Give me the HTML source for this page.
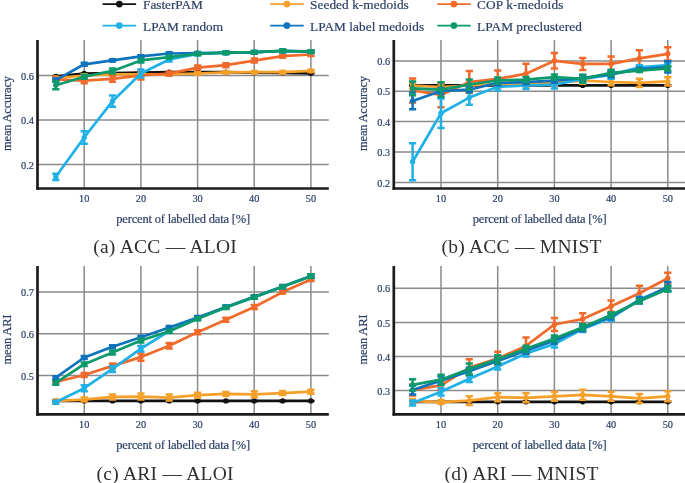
<!DOCTYPE html>
<html lang="en">
<head>
<meta charset="utf-8">
<title>LPAM results</title>
<style>
html,body{margin:0;padding:0;background:#fff;}
svg{display:block;}
text{font-family:"Liberation Serif", "DejaVu Serif", serif;}
.t{fill:#2b3f66;stroke:#2b3f66;stroke-width:.2px;}
.cap{fill:#303030;}
</style>
</head>
<body>
<svg width="685" height="483" viewBox="0 0 685 483">
<rect width="685" height="483" fill="#ffffff"/>
<g id="legend">
<line x1="102.6" y1="4.1" x2="136.1" y2="4.1" stroke="#111111" stroke-width="1.9"/><circle cx="119.3" cy="4.1" r="3.4" fill="#111111"/><text class="t" x="143.1" y="9.2" font-size="13.3" textLength="59.8" lengthAdjust="spacing">FasterPAM</text>
<line x1="102.6" y1="25.6" x2="136.1" y2="25.6" stroke="#1fb1e6" stroke-width="1.9"/><circle cx="119.3" cy="25.6" r="3.4" fill="#1fb1e6"/><text class="t" x="143.1" y="30.7" font-size="13.3" textLength="80.0" lengthAdjust="spacing">LPAM random</text>
<line x1="270.2" y1="4.1" x2="303.7" y2="4.1" stroke="#f5a02a" stroke-width="1.9"/><circle cx="286.9" cy="4.1" r="3.4" fill="#f5a02a"/><text class="t" x="310.0" y="9.2" font-size="13.3" textLength="98.8" lengthAdjust="spacing">Seeded k-medoids</text>
<line x1="270.2" y1="25.6" x2="303.7" y2="25.6" stroke="#0f72bc" stroke-width="1.9"/><circle cx="286.9" cy="25.6" r="3.4" fill="#0f72bc"/><text class="t" x="310.0" y="30.7" font-size="13.3" textLength="114.1" lengthAdjust="spacing">LPAM label medoids</text>
<line x1="437.2" y1="4.1" x2="470.7" y2="4.1" stroke="#f06a2a" stroke-width="1.9"/><circle cx="453.9" cy="4.1" r="3.4" fill="#f06a2a"/><text class="t" x="477.1" y="9.2" font-size="13.3" textLength="86.3" lengthAdjust="spacing">COP k-medoids</text>
<line x1="437.2" y1="25.6" x2="470.7" y2="25.6" stroke="#0c9a6c" stroke-width="1.9"/><circle cx="453.9" cy="25.6" r="3.4" fill="#0c9a6c"/><text class="t" x="477.1" y="30.7" font-size="13.3" textLength="104.7" lengthAdjust="spacing">LPAM preclustered</text>
</g>
<g id="plot0">
<line x1="84.2" y1="40.0" x2="84.2" y2="188.5" stroke="#8a8a8a" stroke-width="1.5"/><line x1="140.9" y1="40.0" x2="140.9" y2="188.5" stroke="#8a8a8a" stroke-width="1.5"/><line x1="197.6" y1="40.0" x2="197.6" y2="188.5" stroke="#8a8a8a" stroke-width="1.5"/><line x1="254.2" y1="40.0" x2="254.2" y2="188.5" stroke="#8a8a8a" stroke-width="1.5"/><line x1="310.9" y1="40.0" x2="310.9" y2="188.5" stroke="#8a8a8a" stroke-width="1.5"/><line x1="37.5" y1="75.5" x2="328.8" y2="75.5" stroke="#8a8a8a" stroke-width="1.5"/><line x1="37.5" y1="120.0" x2="328.8" y2="120.0" stroke="#8a8a8a" stroke-width="1.5"/><line x1="37.5" y1="164.5" x2="328.8" y2="164.5" stroke="#8a8a8a" stroke-width="1.5"/>
<polyline points="55.8,76.4 84.2,73.5 112.5,73.2 140.9,72.5 169.2,72.2 197.6,72.2 225.9,72.2 254.2,72.6 282.6,72.8 310.9,73.3" fill="none" stroke="#111111" stroke-width="2.7" stroke-linejoin="round"/><path d="M55.8 76.4V76.4M52.2 76.4H59.4M52.2 76.4H59.4" stroke="#111111" stroke-width="2.5" fill="none"/><circle cx="55.8" cy="76.4" r="2.7" fill="#111111"/><path d="M84.2 73.5V73.5M80.6 73.5H87.8M80.6 73.5H87.8" stroke="#111111" stroke-width="2.5" fill="none"/><circle cx="84.2" cy="73.5" r="2.7" fill="#111111"/><path d="M112.5 73.2V73.2M108.9 73.2H116.1M108.9 73.2H116.1" stroke="#111111" stroke-width="2.5" fill="none"/><circle cx="112.5" cy="73.2" r="2.7" fill="#111111"/><path d="M140.9 72.5V72.5M137.3 72.5H144.5M137.3 72.5H144.5" stroke="#111111" stroke-width="2.5" fill="none"/><circle cx="140.9" cy="72.5" r="2.7" fill="#111111"/><path d="M169.2 72.2V72.2M165.6 72.2H172.8M165.6 72.2H172.8" stroke="#111111" stroke-width="2.5" fill="none"/><circle cx="169.2" cy="72.2" r="2.7" fill="#111111"/><path d="M197.6 72.2V72.2M194.0 72.2H201.2M194.0 72.2H201.2" stroke="#111111" stroke-width="2.5" fill="none"/><circle cx="197.6" cy="72.2" r="2.7" fill="#111111"/><path d="M225.9 72.2V72.2M222.3 72.2H229.5M222.3 72.2H229.5" stroke="#111111" stroke-width="2.5" fill="none"/><circle cx="225.9" cy="72.2" r="2.7" fill="#111111"/><path d="M254.2 72.6V72.6M250.7 72.6H257.9M250.7 72.6H257.9" stroke="#111111" stroke-width="2.5" fill="none"/><circle cx="254.2" cy="72.6" r="2.7" fill="#111111"/><path d="M282.6 72.8V72.8M279.0 72.8H286.2M279.0 72.8H286.2" stroke="#111111" stroke-width="2.5" fill="none"/><circle cx="282.6" cy="72.8" r="2.7" fill="#111111"/><path d="M310.9 73.3V73.3M307.3 73.3H314.6M307.3 73.3H314.6" stroke="#111111" stroke-width="2.5" fill="none"/><circle cx="310.9" cy="73.3" r="2.7" fill="#111111"/>
<polyline points="55.8,78.0 84.2,75.5 112.5,74.4 140.9,74.4 169.2,74.4 197.6,73.5 225.9,72.4 254.2,72.2 282.6,72.2 310.9,70.9" fill="none" stroke="#f5a02a" stroke-width="2.7" stroke-linejoin="round"/><path d="M55.8 76.8V79.2M52.2 76.8H59.4M52.2 79.2H59.4" stroke="#f5a02a" stroke-width="2.5" fill="none"/><circle cx="55.8" cy="78.0" r="2.7" fill="#f5a02a"/><path d="M84.2 74.3V76.7M80.6 74.3H87.8M80.6 76.7H87.8" stroke="#f5a02a" stroke-width="2.5" fill="none"/><circle cx="84.2" cy="75.5" r="2.7" fill="#f5a02a"/><path d="M112.5 73.2V75.6M108.9 73.2H116.1M108.9 75.6H116.1" stroke="#f5a02a" stroke-width="2.5" fill="none"/><circle cx="112.5" cy="74.4" r="2.7" fill="#f5a02a"/><path d="M140.9 73.2V75.6M137.3 73.2H144.5M137.3 75.6H144.5" stroke="#f5a02a" stroke-width="2.5" fill="none"/><circle cx="140.9" cy="74.4" r="2.7" fill="#f5a02a"/><path d="M169.2 73.2V75.6M165.6 73.2H172.8M165.6 75.6H172.8" stroke="#f5a02a" stroke-width="2.5" fill="none"/><circle cx="169.2" cy="74.4" r="2.7" fill="#f5a02a"/><path d="M197.6 72.3V74.7M194.0 72.3H201.2M194.0 74.7H201.2" stroke="#f5a02a" stroke-width="2.5" fill="none"/><circle cx="197.6" cy="73.5" r="2.7" fill="#f5a02a"/><path d="M225.9 71.2V73.6M222.3 71.2H229.5M222.3 73.6H229.5" stroke="#f5a02a" stroke-width="2.5" fill="none"/><circle cx="225.9" cy="72.4" r="2.7" fill="#f5a02a"/><path d="M254.2 71.0V73.4M250.7 71.0H257.9M250.7 73.4H257.9" stroke="#f5a02a" stroke-width="2.5" fill="none"/><circle cx="254.2" cy="72.2" r="2.7" fill="#f5a02a"/><path d="M282.6 71.0V73.4M279.0 71.0H286.2M279.0 73.4H286.2" stroke="#f5a02a" stroke-width="2.5" fill="none"/><circle cx="282.6" cy="72.2" r="2.7" fill="#f5a02a"/><path d="M310.9 69.7V72.1M307.3 69.7H314.6M307.3 72.1H314.6" stroke="#f5a02a" stroke-width="2.5" fill="none"/><circle cx="310.9" cy="70.9" r="2.7" fill="#f5a02a"/>
<polyline points="55.8,79.4 84.2,80.7 112.5,78.8 140.9,75.5 169.2,73.5 197.6,67.6 225.9,65.2 254.2,60.6 282.6,56.2 310.9,54.5" fill="none" stroke="#f06a2a" stroke-width="2.7" stroke-linejoin="round"/><path d="M55.8 77.4V81.4M52.2 77.4H59.4M52.2 81.4H59.4" stroke="#f06a2a" stroke-width="2.5" fill="none"/><circle cx="55.8" cy="79.4" r="2.7" fill="#f06a2a"/><path d="M84.2 78.2V83.2M80.6 78.2H87.8M80.6 83.2H87.8" stroke="#f06a2a" stroke-width="2.5" fill="none"/><circle cx="84.2" cy="80.7" r="2.7" fill="#f06a2a"/><path d="M112.5 75.8V81.8M108.9 75.8H116.1M108.9 81.8H116.1" stroke="#f06a2a" stroke-width="2.5" fill="none"/><circle cx="112.5" cy="78.8" r="2.7" fill="#f06a2a"/><path d="M140.9 71.5V79.5M137.3 71.5H144.5M137.3 79.5H144.5" stroke="#f06a2a" stroke-width="2.5" fill="none"/><circle cx="140.9" cy="75.5" r="2.7" fill="#f06a2a"/><path d="M169.2 71.5V75.5M165.6 71.5H172.8M165.6 75.5H172.8" stroke="#f06a2a" stroke-width="2.5" fill="none"/><circle cx="169.2" cy="73.5" r="2.7" fill="#f06a2a"/><path d="M197.6 65.6V69.6M194.0 65.6H201.2M194.0 69.6H201.2" stroke="#f06a2a" stroke-width="2.5" fill="none"/><circle cx="197.6" cy="67.6" r="2.7" fill="#f06a2a"/><path d="M225.9 63.2V67.2M222.3 63.2H229.5M222.3 67.2H229.5" stroke="#f06a2a" stroke-width="2.5" fill="none"/><circle cx="225.9" cy="65.2" r="2.7" fill="#f06a2a"/><path d="M254.2 58.6V62.6M250.7 58.6H257.9M250.7 62.6H257.9" stroke="#f06a2a" stroke-width="2.5" fill="none"/><circle cx="254.2" cy="60.6" r="2.7" fill="#f06a2a"/><path d="M282.6 54.7V57.7M279.0 54.7H286.2M279.0 57.7H286.2" stroke="#f06a2a" stroke-width="2.5" fill="none"/><circle cx="282.6" cy="56.2" r="2.7" fill="#f06a2a"/><path d="M310.9 53.0V56.0M307.3 53.0H314.6M307.3 56.0H314.6" stroke="#f06a2a" stroke-width="2.5" fill="none"/><circle cx="310.9" cy="54.5" r="2.7" fill="#f06a2a"/>
<polyline points="55.8,176.8 84.2,137.5 112.5,101.2 140.9,73.5 169.2,59.5 197.6,54.0 225.9,52.9 254.2,52.4 282.6,51.0 310.9,51.8" fill="none" stroke="#1fb1e6" stroke-width="2.7" stroke-linejoin="round"/><path d="M55.8 173.7V179.9M52.2 173.7H59.4M52.2 179.9H59.4" stroke="#1fb1e6" stroke-width="2.5" fill="none"/><circle cx="55.8" cy="176.8" r="2.7" fill="#1fb1e6"/><path d="M84.2 131.3V143.7M80.6 131.3H87.8M80.6 143.7H87.8" stroke="#1fb1e6" stroke-width="2.5" fill="none"/><circle cx="84.2" cy="137.5" r="2.7" fill="#1fb1e6"/><path d="M112.5 95.6V106.8M108.9 95.6H116.1M108.9 106.8H116.1" stroke="#1fb1e6" stroke-width="2.5" fill="none"/><circle cx="112.5" cy="101.2" r="2.7" fill="#1fb1e6"/><path d="M140.9 69.5V77.5M137.3 69.5H144.5M137.3 77.5H144.5" stroke="#1fb1e6" stroke-width="2.5" fill="none"/><circle cx="140.9" cy="73.5" r="2.7" fill="#1fb1e6"/><path d="M169.2 57.5V61.5M165.6 57.5H172.8M165.6 61.5H172.8" stroke="#1fb1e6" stroke-width="2.5" fill="none"/><circle cx="169.2" cy="59.5" r="2.7" fill="#1fb1e6"/><path d="M197.6 52.5V55.5M194.0 52.5H201.2M194.0 55.5H201.2" stroke="#1fb1e6" stroke-width="2.5" fill="none"/><circle cx="197.6" cy="54.0" r="2.7" fill="#1fb1e6"/><path d="M225.9 51.7V54.1M222.3 51.7H229.5M222.3 54.1H229.5" stroke="#1fb1e6" stroke-width="2.5" fill="none"/><circle cx="225.9" cy="52.9" r="2.7" fill="#1fb1e6"/><path d="M254.2 51.2V53.6M250.7 51.2H257.9M250.7 53.6H257.9" stroke="#1fb1e6" stroke-width="2.5" fill="none"/><circle cx="254.2" cy="52.4" r="2.7" fill="#1fb1e6"/><path d="M282.6 49.8V52.2M279.0 49.8H286.2M279.0 52.2H286.2" stroke="#1fb1e6" stroke-width="2.5" fill="none"/><circle cx="282.6" cy="51.0" r="2.7" fill="#1fb1e6"/><path d="M310.9 50.6V53.0M307.3 50.6H314.6M307.3 53.0H314.6" stroke="#1fb1e6" stroke-width="2.5" fill="none"/><circle cx="310.9" cy="51.8" r="2.7" fill="#1fb1e6"/>
<polyline points="55.8,80.1 84.2,64.3 112.5,60.4 140.9,56.4 169.2,53.5 197.6,53.1 225.9,52.7 254.2,52.2 282.6,50.9 310.9,51.6" fill="none" stroke="#0f72bc" stroke-width="2.7" stroke-linejoin="round"/><path d="M55.8 78.6V81.6M52.2 78.6H59.4M52.2 81.6H59.4" stroke="#0f72bc" stroke-width="2.5" fill="none"/><circle cx="55.8" cy="80.1" r="2.7" fill="#0f72bc"/><path d="M84.2 62.8V65.8M80.6 62.8H87.8M80.6 65.8H87.8" stroke="#0f72bc" stroke-width="2.5" fill="none"/><circle cx="84.2" cy="64.3" r="2.7" fill="#0f72bc"/><path d="M112.5 59.2V61.6M108.9 59.2H116.1M108.9 61.6H116.1" stroke="#0f72bc" stroke-width="2.5" fill="none"/><circle cx="112.5" cy="60.4" r="2.7" fill="#0f72bc"/><path d="M140.9 55.2V57.6M137.3 55.2H144.5M137.3 57.6H144.5" stroke="#0f72bc" stroke-width="2.5" fill="none"/><circle cx="140.9" cy="56.4" r="2.7" fill="#0f72bc"/><path d="M169.2 52.3V54.7M165.6 52.3H172.8M165.6 54.7H172.8" stroke="#0f72bc" stroke-width="2.5" fill="none"/><circle cx="169.2" cy="53.5" r="2.7" fill="#0f72bc"/><path d="M197.6 51.9V54.3M194.0 51.9H201.2M194.0 54.3H201.2" stroke="#0f72bc" stroke-width="2.5" fill="none"/><circle cx="197.6" cy="53.1" r="2.7" fill="#0f72bc"/><path d="M225.9 51.5V53.9M222.3 51.5H229.5M222.3 53.9H229.5" stroke="#0f72bc" stroke-width="2.5" fill="none"/><circle cx="225.9" cy="52.7" r="2.7" fill="#0f72bc"/><path d="M254.2 51.0V53.4M250.7 51.0H257.9M250.7 53.4H257.9" stroke="#0f72bc" stroke-width="2.5" fill="none"/><circle cx="254.2" cy="52.2" r="2.7" fill="#0f72bc"/><path d="M282.6 49.7V52.1M279.0 49.7H286.2M279.0 52.1H286.2" stroke="#0f72bc" stroke-width="2.5" fill="none"/><circle cx="282.6" cy="50.9" r="2.7" fill="#0f72bc"/><path d="M310.9 50.4V52.8M307.3 50.4H314.6M307.3 52.8H314.6" stroke="#0f72bc" stroke-width="2.5" fill="none"/><circle cx="310.9" cy="51.6" r="2.7" fill="#0f72bc"/>
<polyline points="55.8,85.3 84.2,76.8 112.5,70.9 140.9,60.4 169.2,57.1 197.6,53.8 225.9,52.7 254.2,52.2 282.6,50.8 310.9,51.6" fill="none" stroke="#0c9a6c" stroke-width="2.7" stroke-linejoin="round"/><path d="M55.8 81.3V89.3M52.2 81.3H59.4M52.2 89.3H59.4" stroke="#0c9a6c" stroke-width="2.5" fill="none"/><circle cx="55.8" cy="85.3" r="2.7" fill="#0c9a6c"/><path d="M84.2 74.8V78.8M80.6 74.8H87.8M80.6 78.8H87.8" stroke="#0c9a6c" stroke-width="2.5" fill="none"/><circle cx="84.2" cy="76.8" r="2.7" fill="#0c9a6c"/><path d="M112.5 68.4V73.4M108.9 68.4H116.1M108.9 73.4H116.1" stroke="#0c9a6c" stroke-width="2.5" fill="none"/><circle cx="112.5" cy="70.9" r="2.7" fill="#0c9a6c"/><path d="M140.9 58.4V62.4M137.3 58.4H144.5M137.3 62.4H144.5" stroke="#0c9a6c" stroke-width="2.5" fill="none"/><circle cx="140.9" cy="60.4" r="2.7" fill="#0c9a6c"/><path d="M169.2 55.6V58.6M165.6 55.6H172.8M165.6 58.6H172.8" stroke="#0c9a6c" stroke-width="2.5" fill="none"/><circle cx="169.2" cy="57.1" r="2.7" fill="#0c9a6c"/><path d="M197.6 52.6V55.0M194.0 52.6H201.2M194.0 55.0H201.2" stroke="#0c9a6c" stroke-width="2.5" fill="none"/><circle cx="197.6" cy="53.8" r="2.7" fill="#0c9a6c"/><path d="M225.9 51.5V53.9M222.3 51.5H229.5M222.3 53.9H229.5" stroke="#0c9a6c" stroke-width="2.5" fill="none"/><circle cx="225.9" cy="52.7" r="2.7" fill="#0c9a6c"/><path d="M254.2 51.0V53.4M250.7 51.0H257.9M250.7 53.4H257.9" stroke="#0c9a6c" stroke-width="2.5" fill="none"/><circle cx="254.2" cy="52.2" r="2.7" fill="#0c9a6c"/><path d="M282.6 49.6V52.0M279.0 49.6H286.2M279.0 52.0H286.2" stroke="#0c9a6c" stroke-width="2.5" fill="none"/><circle cx="282.6" cy="50.8" r="2.7" fill="#0c9a6c"/><path d="M310.9 50.4V52.8M307.3 50.4H314.6M307.3 52.8H314.6" stroke="#0c9a6c" stroke-width="2.5" fill="none"/><circle cx="310.9" cy="51.6" r="2.7" fill="#0c9a6c"/>
<line x1="37.5" y1="40.0" x2="37.5" y2="189.7" stroke="#1c1c1c" stroke-width="2.7"/><line x1="36.3" y1="188.5" x2="328.8" y2="188.5" stroke="#1c1c1c" stroke-width="2.7"/>
<text class="t" x="33.9" y="79.6" font-size="10.3" text-anchor="end">0.6</text><text class="t" x="33.9" y="124.1" font-size="10.3" text-anchor="end">0.4</text><text class="t" x="33.9" y="168.6" font-size="10.3" text-anchor="end">0.2</text><text class="t" x="84.2" y="201.9" font-size="10.3" text-anchor="middle">10</text><text class="t" x="140.9" y="201.9" font-size="10.3" text-anchor="middle">20</text><text class="t" x="197.6" y="201.9" font-size="10.3" text-anchor="middle">30</text><text class="t" x="254.2" y="201.9" font-size="10.3" text-anchor="middle">40</text><text class="t" x="310.9" y="201.9" font-size="10.3" text-anchor="middle">50</text>
<text class="t" x="183.2" y="222.9" font-size="12.5" text-anchor="middle" textLength="134" lengthAdjust="spacing">percent of labelled data [%]</text>
<text class="t" transform="translate(10.6 113.5) rotate(-90)" font-size="12.5" text-anchor="middle" textLength="75" lengthAdjust="spacing">mean Accuracy</text>
</g>
<g id="plot1">
<line x1="441.0" y1="40.0" x2="441.0" y2="188.5" stroke="#8a8a8a" stroke-width="1.5"/><line x1="497.7" y1="40.0" x2="497.7" y2="188.5" stroke="#8a8a8a" stroke-width="1.5"/><line x1="554.4" y1="40.0" x2="554.4" y2="188.5" stroke="#8a8a8a" stroke-width="1.5"/><line x1="611.1" y1="40.0" x2="611.1" y2="188.5" stroke="#8a8a8a" stroke-width="1.5"/><line x1="667.8" y1="40.0" x2="667.8" y2="188.5" stroke="#8a8a8a" stroke-width="1.5"/><line x1="393.8" y1="61.1" x2="685.0" y2="61.1" stroke="#8a8a8a" stroke-width="1.5"/><line x1="393.8" y1="91.3" x2="685.0" y2="91.3" stroke="#8a8a8a" stroke-width="1.5"/><line x1="393.8" y1="121.6" x2="685.0" y2="121.6" stroke="#8a8a8a" stroke-width="1.5"/><line x1="393.8" y1="152.0" x2="685.0" y2="152.0" stroke="#8a8a8a" stroke-width="1.5"/><line x1="393.8" y1="182.5" x2="685.0" y2="182.5" stroke="#8a8a8a" stroke-width="1.5"/>
<polyline points="412.6,85.4 441.0,85.4 469.3,85.4 497.7,85.4 526.0,85.4 554.4,85.4 582.7,85.4 611.1,85.4 639.4,85.4 667.8,85.4" fill="none" stroke="#111111" stroke-width="2.7" stroke-linejoin="round"/><path d="M412.6 85.4V85.4M409.0 85.4H416.2M409.0 85.4H416.2" stroke="#111111" stroke-width="2.5" fill="none"/><circle cx="412.6" cy="85.4" r="2.7" fill="#111111"/><path d="M441.0 85.4V85.4M437.4 85.4H444.6M437.4 85.4H444.6" stroke="#111111" stroke-width="2.5" fill="none"/><circle cx="441.0" cy="85.4" r="2.7" fill="#111111"/><path d="M469.3 85.4V85.4M465.7 85.4H472.9M465.7 85.4H472.9" stroke="#111111" stroke-width="2.5" fill="none"/><circle cx="469.3" cy="85.4" r="2.7" fill="#111111"/><path d="M497.7 85.4V85.4M494.1 85.4H501.3M494.1 85.4H501.3" stroke="#111111" stroke-width="2.5" fill="none"/><circle cx="497.7" cy="85.4" r="2.7" fill="#111111"/><path d="M526.0 85.4V85.4M522.4 85.4H529.6M522.4 85.4H529.6" stroke="#111111" stroke-width="2.5" fill="none"/><circle cx="526.0" cy="85.4" r="2.7" fill="#111111"/><path d="M554.4 85.4V85.4M550.8 85.4H558.0M550.8 85.4H558.0" stroke="#111111" stroke-width="2.5" fill="none"/><circle cx="554.4" cy="85.4" r="2.7" fill="#111111"/><path d="M582.7 85.4V85.4M579.1 85.4H586.3M579.1 85.4H586.3" stroke="#111111" stroke-width="2.5" fill="none"/><circle cx="582.7" cy="85.4" r="2.7" fill="#111111"/><path d="M611.1 85.4V85.4M607.5 85.4H614.7M607.5 85.4H614.7" stroke="#111111" stroke-width="2.5" fill="none"/><circle cx="611.1" cy="85.4" r="2.7" fill="#111111"/><path d="M639.4 85.4V85.4M635.8 85.4H643.0M635.8 85.4H643.0" stroke="#111111" stroke-width="2.5" fill="none"/><circle cx="639.4" cy="85.4" r="2.7" fill="#111111"/><path d="M667.8 85.4V85.4M664.1 85.4H671.4M664.1 85.4H671.4" stroke="#111111" stroke-width="2.5" fill="none"/><circle cx="667.8" cy="85.4" r="2.7" fill="#111111"/>
<polyline points="412.6,85.5 441.0,87.0 469.3,85.5 497.7,84.2 526.0,84.0 554.4,82.7 582.7,80.7 611.1,82.0 639.4,82.8 667.8,81.4" fill="none" stroke="#f5a02a" stroke-width="2.7" stroke-linejoin="round"/><path d="M412.6 82.5V88.5M409.0 82.5H416.2M409.0 88.5H416.2" stroke="#f5a02a" stroke-width="2.5" fill="none"/><circle cx="412.6" cy="85.5" r="2.7" fill="#f5a02a"/><path d="M441.0 84.0V90.0M437.4 84.0H444.6M437.4 90.0H444.6" stroke="#f5a02a" stroke-width="2.5" fill="none"/><circle cx="441.0" cy="87.0" r="2.7" fill="#f5a02a"/><path d="M469.3 82.5V88.5M465.7 82.5H472.9M465.7 88.5H472.9" stroke="#f5a02a" stroke-width="2.5" fill="none"/><circle cx="469.3" cy="85.5" r="2.7" fill="#f5a02a"/><path d="M497.7 81.2V87.2M494.1 81.2H501.3M494.1 87.2H501.3" stroke="#f5a02a" stroke-width="2.5" fill="none"/><circle cx="497.7" cy="84.2" r="2.7" fill="#f5a02a"/><path d="M526.0 81.0V87.0M522.4 81.0H529.6M522.4 87.0H529.6" stroke="#f5a02a" stroke-width="2.5" fill="none"/><circle cx="526.0" cy="84.0" r="2.7" fill="#f5a02a"/><path d="M554.4 79.7V85.7M550.8 79.7H558.0M550.8 85.7H558.0" stroke="#f5a02a" stroke-width="2.5" fill="none"/><circle cx="554.4" cy="82.7" r="2.7" fill="#f5a02a"/><path d="M582.7 77.7V83.7M579.1 77.7H586.3M579.1 83.7H586.3" stroke="#f5a02a" stroke-width="2.5" fill="none"/><circle cx="582.7" cy="80.7" r="2.7" fill="#f5a02a"/><path d="M611.1 78.7V85.3M607.5 78.7H614.7M607.5 85.3H614.7" stroke="#f5a02a" stroke-width="2.5" fill="none"/><circle cx="611.1" cy="82.0" r="2.7" fill="#f5a02a"/><path d="M639.4 78.7V86.9M635.8 78.7H643.0M635.8 86.9H643.0" stroke="#f5a02a" stroke-width="2.5" fill="none"/><circle cx="639.4" cy="82.8" r="2.7" fill="#f5a02a"/><path d="M667.8 77.3V85.5M664.1 77.3H671.4M664.1 85.5H671.4" stroke="#f5a02a" stroke-width="2.5" fill="none"/><circle cx="667.8" cy="81.4" r="2.7" fill="#f5a02a"/>
<polyline points="412.6,90.5 441.0,95.0 469.3,82.0 497.7,78.9 526.0,73.7 554.4,60.8 582.7,63.9 611.1,63.9 639.4,58.4 667.8,53.8" fill="none" stroke="#f06a2a" stroke-width="2.7" stroke-linejoin="round"/><path d="M412.6 78.5V102.5M409.0 78.5H416.2M409.0 102.5H416.2" stroke="#f06a2a" stroke-width="2.5" fill="none"/><circle cx="412.6" cy="90.5" r="2.7" fill="#f06a2a"/><path d="M441.0 82.8V107.2M437.4 82.8H444.6M437.4 107.2H444.6" stroke="#f06a2a" stroke-width="2.5" fill="none"/><circle cx="441.0" cy="95.0" r="2.7" fill="#f06a2a"/><path d="M469.3 71.0V93.0M465.7 71.0H472.9M465.7 93.0H472.9" stroke="#f06a2a" stroke-width="2.5" fill="none"/><circle cx="469.3" cy="82.0" r="2.7" fill="#f06a2a"/><path d="M497.7 70.4V87.4M494.1 70.4H501.3M494.1 87.4H501.3" stroke="#f06a2a" stroke-width="2.5" fill="none"/><circle cx="497.7" cy="78.9" r="2.7" fill="#f06a2a"/><path d="M526.0 63.8V83.6M522.4 63.8H529.6M522.4 83.6H529.6" stroke="#f06a2a" stroke-width="2.5" fill="none"/><circle cx="526.0" cy="73.7" r="2.7" fill="#f06a2a"/><path d="M554.4 53.1V68.5M550.8 53.1H558.0M550.8 68.5H558.0" stroke="#f06a2a" stroke-width="2.5" fill="none"/><circle cx="554.4" cy="60.8" r="2.7" fill="#f06a2a"/><path d="M582.7 57.9V69.9M579.1 57.9H586.3M579.1 69.9H586.3" stroke="#f06a2a" stroke-width="2.5" fill="none"/><circle cx="582.7" cy="63.9" r="2.7" fill="#f06a2a"/><path d="M611.1 56.4V71.4M607.5 56.4H614.7M607.5 71.4H614.7" stroke="#f06a2a" stroke-width="2.5" fill="none"/><circle cx="611.1" cy="63.9" r="2.7" fill="#f06a2a"/><path d="M639.4 50.2V66.6M635.8 50.2H643.0M635.8 66.6H643.0" stroke="#f06a2a" stroke-width="2.5" fill="none"/><circle cx="639.4" cy="58.4" r="2.7" fill="#f06a2a"/><path d="M667.8 47.2V60.4M664.1 47.2H671.4M664.1 60.4H671.4" stroke="#f06a2a" stroke-width="2.5" fill="none"/><circle cx="667.8" cy="53.8" r="2.7" fill="#f06a2a"/>
<polyline points="412.6,161.7 441.0,113.2 469.3,97.6 497.7,86.8 526.0,85.5 554.4,84.7 582.7,79.0 611.1,74.8 639.4,67.4 667.8,65.0" fill="none" stroke="#1fb1e6" stroke-width="2.7" stroke-linejoin="round"/><path d="M412.6 143.2V180.2M409.0 143.2H416.2M409.0 180.2H416.2" stroke="#1fb1e6" stroke-width="2.5" fill="none"/><circle cx="412.6" cy="161.7" r="2.7" fill="#1fb1e6"/><path d="M441.0 98.4V128.0M437.4 98.4H444.6M437.4 128.0H444.6" stroke="#1fb1e6" stroke-width="2.5" fill="none"/><circle cx="441.0" cy="113.2" r="2.7" fill="#1fb1e6"/><path d="M469.3 90.4V104.8M465.7 90.4H472.9M465.7 104.8H472.9" stroke="#1fb1e6" stroke-width="2.5" fill="none"/><circle cx="469.3" cy="97.6" r="2.7" fill="#1fb1e6"/><path d="M497.7 83.2V90.4M494.1 83.2H501.3M494.1 90.4H501.3" stroke="#1fb1e6" stroke-width="2.5" fill="none"/><circle cx="497.7" cy="86.8" r="2.7" fill="#1fb1e6"/><path d="M526.0 82.0V89.0M522.4 82.0H529.6M522.4 89.0H529.6" stroke="#1fb1e6" stroke-width="2.5" fill="none"/><circle cx="526.0" cy="85.5" r="2.7" fill="#1fb1e6"/><path d="M554.4 80.8V88.6M550.8 80.8H558.0M550.8 88.6H558.0" stroke="#1fb1e6" stroke-width="2.5" fill="none"/><circle cx="554.4" cy="84.7" r="2.7" fill="#1fb1e6"/><path d="M582.7 76.0V82.0M579.1 76.0H586.3M579.1 82.0H586.3" stroke="#1fb1e6" stroke-width="2.5" fill="none"/><circle cx="582.7" cy="79.0" r="2.7" fill="#1fb1e6"/><path d="M611.1 70.8V78.8M607.5 70.8H614.7M607.5 78.8H614.7" stroke="#1fb1e6" stroke-width="2.5" fill="none"/><circle cx="611.1" cy="74.8" r="2.7" fill="#1fb1e6"/><path d="M639.4 65.3V69.5M635.8 65.3H643.0M635.8 69.5H643.0" stroke="#1fb1e6" stroke-width="2.5" fill="none"/><circle cx="639.4" cy="67.4" r="2.7" fill="#1fb1e6"/><path d="M667.8 63.0V67.0M664.1 63.0H671.4M664.1 67.0H671.4" stroke="#1fb1e6" stroke-width="2.5" fill="none"/><circle cx="667.8" cy="65.0" r="2.7" fill="#1fb1e6"/>
<polyline points="412.6,100.9 441.0,91.0 469.3,89.7 497.7,82.8 526.0,82.2 554.4,80.7 582.7,78.1 611.1,74.2 639.4,69.3 667.8,66.9" fill="none" stroke="#0f72bc" stroke-width="2.7" stroke-linejoin="round"/><path d="M412.6 92.6V109.2M409.0 92.6H416.2M409.0 109.2H416.2" stroke="#0f72bc" stroke-width="2.5" fill="none"/><circle cx="412.6" cy="100.9" r="2.7" fill="#0f72bc"/><path d="M441.0 88.0V94.0M437.4 88.0H444.6M437.4 94.0H444.6" stroke="#0f72bc" stroke-width="2.5" fill="none"/><circle cx="441.0" cy="91.0" r="2.7" fill="#0f72bc"/><path d="M469.3 87.1V92.3M465.7 87.1H472.9M465.7 92.3H472.9" stroke="#0f72bc" stroke-width="2.5" fill="none"/><circle cx="469.3" cy="89.7" r="2.7" fill="#0f72bc"/><path d="M497.7 80.3V85.3M494.1 80.3H501.3M494.1 85.3H501.3" stroke="#0f72bc" stroke-width="2.5" fill="none"/><circle cx="497.7" cy="82.8" r="2.7" fill="#0f72bc"/><path d="M526.0 80.2V84.2M522.4 80.2H529.6M522.4 84.2H529.6" stroke="#0f72bc" stroke-width="2.5" fill="none"/><circle cx="526.0" cy="82.2" r="2.7" fill="#0f72bc"/><path d="M554.4 78.7V82.7M550.8 78.7H558.0M550.8 82.7H558.0" stroke="#0f72bc" stroke-width="2.5" fill="none"/><circle cx="554.4" cy="80.7" r="2.7" fill="#0f72bc"/><path d="M582.7 75.1V81.1M579.1 75.1H586.3M579.1 81.1H586.3" stroke="#0f72bc" stroke-width="2.5" fill="none"/><circle cx="582.7" cy="78.1" r="2.7" fill="#0f72bc"/><path d="M611.1 71.2V77.2M607.5 71.2H614.7M607.5 77.2H614.7" stroke="#0f72bc" stroke-width="2.5" fill="none"/><circle cx="611.1" cy="74.2" r="2.7" fill="#0f72bc"/><path d="M639.4 67.8V70.8M635.8 67.8H643.0M635.8 70.8H643.0" stroke="#0f72bc" stroke-width="2.5" fill="none"/><circle cx="639.4" cy="69.3" r="2.7" fill="#0f72bc"/><path d="M667.8 61.2V72.6M664.1 61.2H671.4M664.1 72.6H671.4" stroke="#0f72bc" stroke-width="2.5" fill="none"/><circle cx="667.8" cy="66.9" r="2.7" fill="#0f72bc"/>
<polyline points="412.6,88.4 441.0,89.7 469.3,84.5 497.7,80.5 526.0,79.6 554.4,77.1 582.7,78.8 611.1,72.8 639.4,70.6 667.8,68.4" fill="none" stroke="#0c9a6c" stroke-width="2.7" stroke-linejoin="round"/><path d="M412.6 81.5V95.3M409.0 81.5H416.2M409.0 95.3H416.2" stroke="#0c9a6c" stroke-width="2.5" fill="none"/><circle cx="412.6" cy="88.4" r="2.7" fill="#0c9a6c"/><path d="M441.0 82.3V97.1M437.4 82.3H444.6M437.4 97.1H444.6" stroke="#0c9a6c" stroke-width="2.5" fill="none"/><circle cx="441.0" cy="89.7" r="2.7" fill="#0c9a6c"/><path d="M469.3 79.5V89.5M465.7 79.5H472.9M465.7 89.5H472.9" stroke="#0c9a6c" stroke-width="2.5" fill="none"/><circle cx="469.3" cy="84.5" r="2.7" fill="#0c9a6c"/><path d="M497.7 77.5V83.5M494.1 77.5H501.3M494.1 83.5H501.3" stroke="#0c9a6c" stroke-width="2.5" fill="none"/><circle cx="497.7" cy="80.5" r="2.7" fill="#0c9a6c"/><path d="M526.0 77.1V82.1M522.4 77.1H529.6M522.4 82.1H529.6" stroke="#0c9a6c" stroke-width="2.5" fill="none"/><circle cx="526.0" cy="79.6" r="2.7" fill="#0c9a6c"/><path d="M554.4 74.6V79.6M550.8 74.6H558.0M550.8 79.6H558.0" stroke="#0c9a6c" stroke-width="2.5" fill="none"/><circle cx="554.4" cy="77.1" r="2.7" fill="#0c9a6c"/><path d="M582.7 74.8V82.8M579.1 74.8H586.3M579.1 82.8H586.3" stroke="#0c9a6c" stroke-width="2.5" fill="none"/><circle cx="582.7" cy="78.8" r="2.7" fill="#0c9a6c"/><path d="M611.1 69.8V75.8M607.5 69.8H614.7M607.5 75.8H614.7" stroke="#0c9a6c" stroke-width="2.5" fill="none"/><circle cx="611.1" cy="72.8" r="2.7" fill="#0c9a6c"/><path d="M639.4 69.1V72.1M635.8 69.1H643.0M635.8 72.1H643.0" stroke="#0c9a6c" stroke-width="2.5" fill="none"/><circle cx="639.4" cy="70.6" r="2.7" fill="#0c9a6c"/><path d="M667.8 66.3V70.5M664.1 66.3H671.4M664.1 70.5H671.4" stroke="#0c9a6c" stroke-width="2.5" fill="none"/><circle cx="667.8" cy="68.4" r="2.7" fill="#0c9a6c"/>
<line x1="393.8" y1="40.0" x2="393.8" y2="189.7" stroke="#1c1c1c" stroke-width="2.7"/><line x1="392.6" y1="188.5" x2="685.0" y2="188.5" stroke="#1c1c1c" stroke-width="2.7"/>
<text class="t" x="390.2" y="65.2" font-size="10.3" text-anchor="end">0.6</text><text class="t" x="390.2" y="95.4" font-size="10.3" text-anchor="end">0.5</text><text class="t" x="390.2" y="125.7" font-size="10.3" text-anchor="end">0.4</text><text class="t" x="390.2" y="156.1" font-size="10.3" text-anchor="end">0.3</text><text class="t" x="390.2" y="186.6" font-size="10.3" text-anchor="end">0.2</text><text class="t" x="441.0" y="201.9" font-size="10.3" text-anchor="middle">10</text><text class="t" x="497.7" y="201.9" font-size="10.3" text-anchor="middle">20</text><text class="t" x="554.4" y="201.9" font-size="10.3" text-anchor="middle">30</text><text class="t" x="611.1" y="201.9" font-size="10.3" text-anchor="middle">40</text><text class="t" x="667.8" y="201.9" font-size="10.3" text-anchor="middle">50</text>
<text class="t" x="539.7" y="222.9" font-size="12.5" text-anchor="middle" textLength="134" lengthAdjust="spacing">percent of labelled data [%]</text>
<text class="t" transform="translate(366.6 113.5) rotate(-90)" font-size="12.5" text-anchor="middle" textLength="75" lengthAdjust="spacing">mean Accuracy</text>
</g>
<g id="plot2">
<line x1="84.2" y1="266.0" x2="84.2" y2="414.4" stroke="#8a8a8a" stroke-width="1.5"/><line x1="140.9" y1="266.0" x2="140.9" y2="414.4" stroke="#8a8a8a" stroke-width="1.5"/><line x1="197.6" y1="266.0" x2="197.6" y2="414.4" stroke="#8a8a8a" stroke-width="1.5"/><line x1="254.2" y1="266.0" x2="254.2" y2="414.4" stroke="#8a8a8a" stroke-width="1.5"/><line x1="310.9" y1="266.0" x2="310.9" y2="414.4" stroke="#8a8a8a" stroke-width="1.5"/><line x1="37.5" y1="292.1" x2="328.8" y2="292.1" stroke="#8a8a8a" stroke-width="1.5"/><line x1="37.5" y1="333.7" x2="328.8" y2="333.7" stroke="#8a8a8a" stroke-width="1.5"/><line x1="37.5" y1="375.4" x2="328.8" y2="375.4" stroke="#8a8a8a" stroke-width="1.5"/>
<polyline points="55.8,400.9 84.2,400.9 112.5,400.9 140.9,400.9 169.2,400.9 197.6,400.9 225.9,400.9 254.2,400.9 282.6,400.9 310.9,400.9" fill="none" stroke="#111111" stroke-width="2.7" stroke-linejoin="round"/><path d="M55.8 400.9V400.9M52.2 400.9H59.4M52.2 400.9H59.4" stroke="#111111" stroke-width="2.5" fill="none"/><circle cx="55.8" cy="400.9" r="2.7" fill="#111111"/><path d="M84.2 400.9V400.9M80.6 400.9H87.8M80.6 400.9H87.8" stroke="#111111" stroke-width="2.5" fill="none"/><circle cx="84.2" cy="400.9" r="2.7" fill="#111111"/><path d="M112.5 400.9V400.9M108.9 400.9H116.1M108.9 400.9H116.1" stroke="#111111" stroke-width="2.5" fill="none"/><circle cx="112.5" cy="400.9" r="2.7" fill="#111111"/><path d="M140.9 400.9V400.9M137.3 400.9H144.5M137.3 400.9H144.5" stroke="#111111" stroke-width="2.5" fill="none"/><circle cx="140.9" cy="400.9" r="2.7" fill="#111111"/><path d="M169.2 400.9V400.9M165.6 400.9H172.8M165.6 400.9H172.8" stroke="#111111" stroke-width="2.5" fill="none"/><circle cx="169.2" cy="400.9" r="2.7" fill="#111111"/><path d="M197.6 400.9V400.9M194.0 400.9H201.2M194.0 400.9H201.2" stroke="#111111" stroke-width="2.5" fill="none"/><circle cx="197.6" cy="400.9" r="2.7" fill="#111111"/><path d="M225.9 400.9V400.9M222.3 400.9H229.5M222.3 400.9H229.5" stroke="#111111" stroke-width="2.5" fill="none"/><circle cx="225.9" cy="400.9" r="2.7" fill="#111111"/><path d="M254.2 400.9V400.9M250.7 400.9H257.9M250.7 400.9H257.9" stroke="#111111" stroke-width="2.5" fill="none"/><circle cx="254.2" cy="400.9" r="2.7" fill="#111111"/><path d="M282.6 400.9V400.9M279.0 400.9H286.2M279.0 400.9H286.2" stroke="#111111" stroke-width="2.5" fill="none"/><circle cx="282.6" cy="400.9" r="2.7" fill="#111111"/><path d="M310.9 400.9V400.9M307.3 400.9H314.6M307.3 400.9H314.6" stroke="#111111" stroke-width="2.5" fill="none"/><circle cx="310.9" cy="400.9" r="2.7" fill="#111111"/>
<polyline points="55.8,401.0 84.2,399.6 112.5,396.9 140.9,396.6 169.2,397.6 197.6,395.2 225.9,393.9 254.2,394.3 282.6,393.1 310.9,391.7" fill="none" stroke="#f5a02a" stroke-width="2.7" stroke-linejoin="round"/><path d="M55.8 399.5V402.5M52.2 399.5H59.4M52.2 402.5H59.4" stroke="#f5a02a" stroke-width="2.5" fill="none"/><circle cx="55.8" cy="401.0" r="2.7" fill="#f5a02a"/><path d="M84.2 397.6V401.6M80.6 397.6H87.8M80.6 401.6H87.8" stroke="#f5a02a" stroke-width="2.5" fill="none"/><circle cx="84.2" cy="399.6" r="2.7" fill="#f5a02a"/><path d="M112.5 394.4V399.4M108.9 394.4H116.1M108.9 399.4H116.1" stroke="#f5a02a" stroke-width="2.5" fill="none"/><circle cx="112.5" cy="396.9" r="2.7" fill="#f5a02a"/><path d="M140.9 393.6V399.6M137.3 393.6H144.5M137.3 399.6H144.5" stroke="#f5a02a" stroke-width="2.5" fill="none"/><circle cx="140.9" cy="396.6" r="2.7" fill="#f5a02a"/><path d="M169.2 394.6V400.6M165.6 394.6H172.8M165.6 400.6H172.8" stroke="#f5a02a" stroke-width="2.5" fill="none"/><circle cx="169.2" cy="397.6" r="2.7" fill="#f5a02a"/><path d="M197.6 392.7V397.7M194.0 392.7H201.2M194.0 397.7H201.2" stroke="#f5a02a" stroke-width="2.5" fill="none"/><circle cx="197.6" cy="395.2" r="2.7" fill="#f5a02a"/><path d="M225.9 391.9V395.9M222.3 391.9H229.5M222.3 395.9H229.5" stroke="#f5a02a" stroke-width="2.5" fill="none"/><circle cx="225.9" cy="393.9" r="2.7" fill="#f5a02a"/><path d="M254.2 391.3V397.3M250.7 391.3H257.9M250.7 397.3H257.9" stroke="#f5a02a" stroke-width="2.5" fill="none"/><circle cx="254.2" cy="394.3" r="2.7" fill="#f5a02a"/><path d="M282.6 391.1V395.1M279.0 391.1H286.2M279.0 395.1H286.2" stroke="#f5a02a" stroke-width="2.5" fill="none"/><circle cx="282.6" cy="393.1" r="2.7" fill="#f5a02a"/><path d="M310.9 389.7V393.7M307.3 389.7H314.6M307.3 393.7H314.6" stroke="#f5a02a" stroke-width="2.5" fill="none"/><circle cx="310.9" cy="391.7" r="2.7" fill="#f5a02a"/>
<polyline points="55.8,382.0 84.2,375.0 112.5,365.9 140.9,357.1 169.2,345.8 197.6,332.2 225.9,319.8 254.2,307.0 282.6,292.1 310.9,279.6" fill="none" stroke="#f06a2a" stroke-width="2.7" stroke-linejoin="round"/><path d="M55.8 380.5V383.5M52.2 380.5H59.4M52.2 383.5H59.4" stroke="#f06a2a" stroke-width="2.5" fill="none"/><circle cx="55.8" cy="382.0" r="2.7" fill="#f06a2a"/><path d="M84.2 373.0V377.0M80.6 373.0H87.8M80.6 377.0H87.8" stroke="#f06a2a" stroke-width="2.5" fill="none"/><circle cx="84.2" cy="375.0" r="2.7" fill="#f06a2a"/><path d="M112.5 363.4V368.4M108.9 363.4H116.1M108.9 368.4H116.1" stroke="#f06a2a" stroke-width="2.5" fill="none"/><circle cx="112.5" cy="365.9" r="2.7" fill="#f06a2a"/><path d="M140.9 353.4V360.8M137.3 353.4H144.5M137.3 360.8H144.5" stroke="#f06a2a" stroke-width="2.5" fill="none"/><circle cx="140.9" cy="357.1" r="2.7" fill="#f06a2a"/><path d="M169.2 343.0V348.6M165.6 343.0H172.8M165.6 348.6H172.8" stroke="#f06a2a" stroke-width="2.5" fill="none"/><circle cx="169.2" cy="345.8" r="2.7" fill="#f06a2a"/><path d="M197.6 330.2V334.2M194.0 330.2H201.2M194.0 334.2H201.2" stroke="#f06a2a" stroke-width="2.5" fill="none"/><circle cx="197.6" cy="332.2" r="2.7" fill="#f06a2a"/><path d="M225.9 317.8V321.8M222.3 317.8H229.5M222.3 321.8H229.5" stroke="#f06a2a" stroke-width="2.5" fill="none"/><circle cx="225.9" cy="319.8" r="2.7" fill="#f06a2a"/><path d="M254.2 305.0V309.0M250.7 305.0H257.9M250.7 309.0H257.9" stroke="#f06a2a" stroke-width="2.5" fill="none"/><circle cx="254.2" cy="307.0" r="2.7" fill="#f06a2a"/><path d="M282.6 290.6V293.6M279.0 290.6H286.2M279.0 293.6H286.2" stroke="#f06a2a" stroke-width="2.5" fill="none"/><circle cx="282.6" cy="292.1" r="2.7" fill="#f06a2a"/><path d="M310.9 278.1V281.1M307.3 278.1H314.6M307.3 281.1H314.6" stroke="#f06a2a" stroke-width="2.5" fill="none"/><circle cx="310.9" cy="279.6" r="2.7" fill="#f06a2a"/>
<polyline points="55.8,402.2 84.2,388.2 112.5,368.9 140.9,348.7 169.2,331.0 197.6,318.5 225.9,307.3 254.2,297.2 282.6,286.7 310.9,276.2" fill="none" stroke="#1fb1e6" stroke-width="2.7" stroke-linejoin="round"/><path d="M55.8 400.7V403.7M52.2 400.7H59.4M52.2 403.7H59.4" stroke="#1fb1e6" stroke-width="2.5" fill="none"/><circle cx="55.8" cy="402.2" r="2.7" fill="#1fb1e6"/><path d="M84.2 385.2V391.2M80.6 385.2H87.8M80.6 391.2H87.8" stroke="#1fb1e6" stroke-width="2.5" fill="none"/><circle cx="84.2" cy="388.2" r="2.7" fill="#1fb1e6"/><path d="M112.5 365.9V371.9M108.9 365.9H116.1M108.9 371.9H116.1" stroke="#1fb1e6" stroke-width="2.5" fill="none"/><circle cx="112.5" cy="368.9" r="2.7" fill="#1fb1e6"/><path d="M140.9 345.9V351.5M137.3 345.9H144.5M137.3 351.5H144.5" stroke="#1fb1e6" stroke-width="2.5" fill="none"/><circle cx="140.9" cy="348.7" r="2.7" fill="#1fb1e6"/><path d="M169.2 329.0V333.0M165.6 329.0H172.8M165.6 333.0H172.8" stroke="#1fb1e6" stroke-width="2.5" fill="none"/><circle cx="169.2" cy="331.0" r="2.7" fill="#1fb1e6"/><path d="M197.6 317.0V320.0M194.0 317.0H201.2M194.0 320.0H201.2" stroke="#1fb1e6" stroke-width="2.5" fill="none"/><circle cx="197.6" cy="318.5" r="2.7" fill="#1fb1e6"/><path d="M225.9 305.8V308.8M222.3 305.8H229.5M222.3 308.8H229.5" stroke="#1fb1e6" stroke-width="2.5" fill="none"/><circle cx="225.9" cy="307.3" r="2.7" fill="#1fb1e6"/><path d="M254.2 295.7V298.7M250.7 295.7H257.9M250.7 298.7H257.9" stroke="#1fb1e6" stroke-width="2.5" fill="none"/><circle cx="254.2" cy="297.2" r="2.7" fill="#1fb1e6"/><path d="M282.6 285.2V288.2M279.0 285.2H286.2M279.0 288.2H286.2" stroke="#1fb1e6" stroke-width="2.5" fill="none"/><circle cx="282.6" cy="286.7" r="2.7" fill="#1fb1e6"/><path d="M310.9 274.7V277.7M307.3 274.7H314.6M307.3 277.7H314.6" stroke="#1fb1e6" stroke-width="2.5" fill="none"/><circle cx="310.9" cy="276.2" r="2.7" fill="#1fb1e6"/>
<polyline points="55.8,377.7 84.2,357.5 112.5,346.7 140.9,337.3 169.2,327.5 197.6,317.5 225.9,307.0 254.2,296.8 282.6,286.5 310.9,276.0" fill="none" stroke="#0f72bc" stroke-width="2.7" stroke-linejoin="round"/><path d="M55.8 376.2V379.2M52.2 376.2H59.4M52.2 379.2H59.4" stroke="#0f72bc" stroke-width="2.5" fill="none"/><circle cx="55.8" cy="377.7" r="2.7" fill="#0f72bc"/><path d="M84.2 356.0V359.0M80.6 356.0H87.8M80.6 359.0H87.8" stroke="#0f72bc" stroke-width="2.5" fill="none"/><circle cx="84.2" cy="357.5" r="2.7" fill="#0f72bc"/><path d="M112.5 345.2V348.2M108.9 345.2H116.1M108.9 348.2H116.1" stroke="#0f72bc" stroke-width="2.5" fill="none"/><circle cx="112.5" cy="346.7" r="2.7" fill="#0f72bc"/><path d="M140.9 335.8V338.8M137.3 335.8H144.5M137.3 338.8H144.5" stroke="#0f72bc" stroke-width="2.5" fill="none"/><circle cx="140.9" cy="337.3" r="2.7" fill="#0f72bc"/><path d="M169.2 326.0V329.0M165.6 326.0H172.8M165.6 329.0H172.8" stroke="#0f72bc" stroke-width="2.5" fill="none"/><circle cx="169.2" cy="327.5" r="2.7" fill="#0f72bc"/><path d="M197.6 316.0V319.0M194.0 316.0H201.2M194.0 319.0H201.2" stroke="#0f72bc" stroke-width="2.5" fill="none"/><circle cx="197.6" cy="317.5" r="2.7" fill="#0f72bc"/><path d="M225.9 305.5V308.5M222.3 305.5H229.5M222.3 308.5H229.5" stroke="#0f72bc" stroke-width="2.5" fill="none"/><circle cx="225.9" cy="307.0" r="2.7" fill="#0f72bc"/><path d="M254.2 295.3V298.3M250.7 295.3H257.9M250.7 298.3H257.9" stroke="#0f72bc" stroke-width="2.5" fill="none"/><circle cx="254.2" cy="296.8" r="2.7" fill="#0f72bc"/><path d="M282.6 285.0V288.0M279.0 285.0H286.2M279.0 288.0H286.2" stroke="#0f72bc" stroke-width="2.5" fill="none"/><circle cx="282.6" cy="286.5" r="2.7" fill="#0f72bc"/><path d="M310.9 274.5V277.5M307.3 274.5H314.6M307.3 277.5H314.6" stroke="#0f72bc" stroke-width="2.5" fill="none"/><circle cx="310.9" cy="276.0" r="2.7" fill="#0f72bc"/>
<polyline points="55.8,382.9 84.2,364.2 112.5,352.6 140.9,340.5 169.2,331.2 197.6,318.7 225.9,307.5 254.2,297.3 282.6,286.8 310.9,276.3" fill="none" stroke="#0c9a6c" stroke-width="2.7" stroke-linejoin="round"/><path d="M55.8 381.1V384.7M52.2 381.1H59.4M52.2 384.7H59.4" stroke="#0c9a6c" stroke-width="2.5" fill="none"/><circle cx="55.8" cy="382.9" r="2.7" fill="#0c9a6c"/><path d="M84.2 362.4V366.0M80.6 362.4H87.8M80.6 366.0H87.8" stroke="#0c9a6c" stroke-width="2.5" fill="none"/><circle cx="84.2" cy="364.2" r="2.7" fill="#0c9a6c"/><path d="M112.5 350.6V354.6M108.9 350.6H116.1M108.9 354.6H116.1" stroke="#0c9a6c" stroke-width="2.5" fill="none"/><circle cx="112.5" cy="352.6" r="2.7" fill="#0c9a6c"/><path d="M140.9 338.5V342.5M137.3 338.5H144.5M137.3 342.5H144.5" stroke="#0c9a6c" stroke-width="2.5" fill="none"/><circle cx="140.9" cy="340.5" r="2.7" fill="#0c9a6c"/><path d="M169.2 329.7V332.7M165.6 329.7H172.8M165.6 332.7H172.8" stroke="#0c9a6c" stroke-width="2.5" fill="none"/><circle cx="169.2" cy="331.2" r="2.7" fill="#0c9a6c"/><path d="M197.6 317.2V320.2M194.0 317.2H201.2M194.0 320.2H201.2" stroke="#0c9a6c" stroke-width="2.5" fill="none"/><circle cx="197.6" cy="318.7" r="2.7" fill="#0c9a6c"/><path d="M225.9 306.0V309.0M222.3 306.0H229.5M222.3 309.0H229.5" stroke="#0c9a6c" stroke-width="2.5" fill="none"/><circle cx="225.9" cy="307.5" r="2.7" fill="#0c9a6c"/><path d="M254.2 295.8V298.8M250.7 295.8H257.9M250.7 298.8H257.9" stroke="#0c9a6c" stroke-width="2.5" fill="none"/><circle cx="254.2" cy="297.3" r="2.7" fill="#0c9a6c"/><path d="M282.6 285.3V288.3M279.0 285.3H286.2M279.0 288.3H286.2" stroke="#0c9a6c" stroke-width="2.5" fill="none"/><circle cx="282.6" cy="286.8" r="2.7" fill="#0c9a6c"/><path d="M310.9 274.5V278.1M307.3 274.5H314.6M307.3 278.1H314.6" stroke="#0c9a6c" stroke-width="2.5" fill="none"/><circle cx="310.9" cy="276.3" r="2.7" fill="#0c9a6c"/>
<line x1="37.5" y1="266.0" x2="37.5" y2="415.6" stroke="#1c1c1c" stroke-width="2.7"/><line x1="36.3" y1="414.4" x2="328.8" y2="414.4" stroke="#1c1c1c" stroke-width="2.7"/>
<text class="t" x="33.9" y="296.2" font-size="10.3" text-anchor="end">0.7</text><text class="t" x="33.9" y="337.8" font-size="10.3" text-anchor="end">0.6</text><text class="t" x="33.9" y="379.5" font-size="10.3" text-anchor="end">0.5</text><text class="t" x="84.2" y="427.8" font-size="10.3" text-anchor="middle">10</text><text class="t" x="140.9" y="427.8" font-size="10.3" text-anchor="middle">20</text><text class="t" x="197.6" y="427.8" font-size="10.3" text-anchor="middle">30</text><text class="t" x="254.2" y="427.8" font-size="10.3" text-anchor="middle">40</text><text class="t" x="310.9" y="427.8" font-size="10.3" text-anchor="middle">50</text>
<text class="t" x="183.2" y="448.8" font-size="12.5" text-anchor="middle" textLength="134" lengthAdjust="spacing">percent of labelled data [%]</text>
<text class="t" transform="translate(10.6 339.5) rotate(-90)" font-size="12.5" text-anchor="middle" textLength="50" lengthAdjust="spacing">mean ARI</text>
</g>
<g id="plot3">
<line x1="441.0" y1="266.0" x2="441.0" y2="414.4" stroke="#8a8a8a" stroke-width="1.5"/><line x1="497.7" y1="266.0" x2="497.7" y2="414.4" stroke="#8a8a8a" stroke-width="1.5"/><line x1="554.4" y1="266.0" x2="554.4" y2="414.4" stroke="#8a8a8a" stroke-width="1.5"/><line x1="611.1" y1="266.0" x2="611.1" y2="414.4" stroke="#8a8a8a" stroke-width="1.5"/><line x1="667.8" y1="266.0" x2="667.8" y2="414.4" stroke="#8a8a8a" stroke-width="1.5"/><line x1="393.8" y1="288.3" x2="685.0" y2="288.3" stroke="#8a8a8a" stroke-width="1.5"/><line x1="393.8" y1="322.4" x2="685.0" y2="322.4" stroke="#8a8a8a" stroke-width="1.5"/><line x1="393.8" y1="356.4" x2="685.0" y2="356.4" stroke="#8a8a8a" stroke-width="1.5"/><line x1="393.8" y1="390.5" x2="685.0" y2="390.5" stroke="#8a8a8a" stroke-width="1.5"/>
<polyline points="412.6,401.8 441.0,401.8 469.3,401.8 497.7,401.8 526.0,401.8 554.4,401.8 582.7,401.8 611.1,401.8 639.4,401.8 667.8,401.8" fill="none" stroke="#111111" stroke-width="2.7" stroke-linejoin="round"/><path d="M412.6 401.8V401.8M409.0 401.8H416.2M409.0 401.8H416.2" stroke="#111111" stroke-width="2.5" fill="none"/><circle cx="412.6" cy="401.8" r="2.7" fill="#111111"/><path d="M441.0 401.8V401.8M437.4 401.8H444.6M437.4 401.8H444.6" stroke="#111111" stroke-width="2.5" fill="none"/><circle cx="441.0" cy="401.8" r="2.7" fill="#111111"/><path d="M469.3 401.8V401.8M465.7 401.8H472.9M465.7 401.8H472.9" stroke="#111111" stroke-width="2.5" fill="none"/><circle cx="469.3" cy="401.8" r="2.7" fill="#111111"/><path d="M497.7 401.8V401.8M494.1 401.8H501.3M494.1 401.8H501.3" stroke="#111111" stroke-width="2.5" fill="none"/><circle cx="497.7" cy="401.8" r="2.7" fill="#111111"/><path d="M526.0 401.8V401.8M522.4 401.8H529.6M522.4 401.8H529.6" stroke="#111111" stroke-width="2.5" fill="none"/><circle cx="526.0" cy="401.8" r="2.7" fill="#111111"/><path d="M554.4 401.8V401.8M550.8 401.8H558.0M550.8 401.8H558.0" stroke="#111111" stroke-width="2.5" fill="none"/><circle cx="554.4" cy="401.8" r="2.7" fill="#111111"/><path d="M582.7 401.8V401.8M579.1 401.8H586.3M579.1 401.8H586.3" stroke="#111111" stroke-width="2.5" fill="none"/><circle cx="582.7" cy="401.8" r="2.7" fill="#111111"/><path d="M611.1 401.8V401.8M607.5 401.8H614.7M607.5 401.8H614.7" stroke="#111111" stroke-width="2.5" fill="none"/><circle cx="611.1" cy="401.8" r="2.7" fill="#111111"/><path d="M639.4 401.8V401.8M635.8 401.8H643.0M635.8 401.8H643.0" stroke="#111111" stroke-width="2.5" fill="none"/><circle cx="639.4" cy="401.8" r="2.7" fill="#111111"/><path d="M667.8 401.8V401.8M664.1 401.8H671.4M664.1 401.8H671.4" stroke="#111111" stroke-width="2.5" fill="none"/><circle cx="667.8" cy="401.8" r="2.7" fill="#111111"/>
<polyline points="412.6,401.1 441.0,402.1 469.3,400.6 497.7,397.2 526.0,397.8 554.4,396.3 582.7,394.8 611.1,396.3 639.4,398.4 667.8,396.3" fill="none" stroke="#f5a02a" stroke-width="2.7" stroke-linejoin="round"/><path d="M412.6 399.1V403.1M409.0 399.1H416.2M409.0 403.1H416.2" stroke="#f5a02a" stroke-width="2.5" fill="none"/><circle cx="412.6" cy="401.1" r="2.7" fill="#f5a02a"/><path d="M441.0 400.1V404.1M437.4 400.1H444.6M437.4 404.1H444.6" stroke="#f5a02a" stroke-width="2.5" fill="none"/><circle cx="441.0" cy="402.1" r="2.7" fill="#f5a02a"/><path d="M469.3 396.2V405.0M465.7 396.2H472.9M465.7 405.0H472.9" stroke="#f5a02a" stroke-width="2.5" fill="none"/><circle cx="469.3" cy="400.6" r="2.7" fill="#f5a02a"/><path d="M497.7 393.2V401.2M494.1 393.2H501.3M494.1 401.2H501.3" stroke="#f5a02a" stroke-width="2.5" fill="none"/><circle cx="497.7" cy="397.2" r="2.7" fill="#f5a02a"/><path d="M526.0 393.3V402.3M522.4 393.3H529.6M522.4 402.3H529.6" stroke="#f5a02a" stroke-width="2.5" fill="none"/><circle cx="526.0" cy="397.8" r="2.7" fill="#f5a02a"/><path d="M554.4 391.8V400.8M550.8 391.8H558.0M550.8 400.8H558.0" stroke="#f5a02a" stroke-width="2.5" fill="none"/><circle cx="554.4" cy="396.3" r="2.7" fill="#f5a02a"/><path d="M582.7 389.8V399.8M579.1 389.8H586.3M579.1 399.8H586.3" stroke="#f5a02a" stroke-width="2.5" fill="none"/><circle cx="582.7" cy="394.8" r="2.7" fill="#f5a02a"/><path d="M611.1 391.8V400.8M607.5 391.8H614.7M607.5 400.8H614.7" stroke="#f5a02a" stroke-width="2.5" fill="none"/><circle cx="611.1" cy="396.3" r="2.7" fill="#f5a02a"/><path d="M639.4 393.9V402.9M635.8 393.9H643.0M635.8 402.9H643.0" stroke="#f5a02a" stroke-width="2.5" fill="none"/><circle cx="639.4" cy="398.4" r="2.7" fill="#f5a02a"/><path d="M667.8 391.3V401.3M664.1 391.3H671.4M664.1 401.3H671.4" stroke="#f5a02a" stroke-width="2.5" fill="none"/><circle cx="667.8" cy="396.3" r="2.7" fill="#f5a02a"/>
<polyline points="412.6,390.0 441.0,385.3 469.3,367.6 497.7,358.5 526.0,345.9 554.4,324.5 582.7,319.0 611.1,306.2 639.4,293.2 667.8,278.3" fill="none" stroke="#f06a2a" stroke-width="2.7" stroke-linejoin="round"/><path d="M412.6 384.5V395.5M409.0 384.5H416.2M409.0 395.5H416.2" stroke="#f06a2a" stroke-width="2.5" fill="none"/><circle cx="412.6" cy="390.0" r="2.7" fill="#f06a2a"/><path d="M441.0 380.3V390.3M437.4 380.3H444.6M437.4 390.3H444.6" stroke="#f06a2a" stroke-width="2.5" fill="none"/><circle cx="441.0" cy="385.3" r="2.7" fill="#f06a2a"/><path d="M469.3 359.2V376.0M465.7 359.2H472.9M465.7 376.0H472.9" stroke="#f06a2a" stroke-width="2.5" fill="none"/><circle cx="469.3" cy="367.6" r="2.7" fill="#f06a2a"/><path d="M497.7 351.7V365.3M494.1 351.7H501.3M494.1 365.3H501.3" stroke="#f06a2a" stroke-width="2.5" fill="none"/><circle cx="497.7" cy="358.5" r="2.7" fill="#f06a2a"/><path d="M526.0 337.5V354.3M522.4 337.5H529.6M522.4 354.3H529.6" stroke="#f06a2a" stroke-width="2.5" fill="none"/><circle cx="526.0" cy="345.9" r="2.7" fill="#f06a2a"/><path d="M554.4 318.0V331.0M550.8 318.0H558.0M550.8 331.0H558.0" stroke="#f06a2a" stroke-width="2.5" fill="none"/><circle cx="554.4" cy="324.5" r="2.7" fill="#f06a2a"/><path d="M582.7 313.2V324.8M579.1 313.2H586.3M579.1 324.8H586.3" stroke="#f06a2a" stroke-width="2.5" fill="none"/><circle cx="582.7" cy="319.0" r="2.7" fill="#f06a2a"/><path d="M611.1 300.6V311.8M607.5 300.6H614.7M607.5 311.8H614.7" stroke="#f06a2a" stroke-width="2.5" fill="none"/><circle cx="611.1" cy="306.2" r="2.7" fill="#f06a2a"/><path d="M639.4 285.7V300.7M635.8 285.7H643.0M635.8 300.7H643.0" stroke="#f06a2a" stroke-width="2.5" fill="none"/><circle cx="639.4" cy="293.2" r="2.7" fill="#f06a2a"/><path d="M667.8 272.7V283.9M664.1 272.7H671.4M664.1 283.9H671.4" stroke="#f06a2a" stroke-width="2.5" fill="none"/><circle cx="667.8" cy="278.3" r="2.7" fill="#f06a2a"/>
<polyline points="412.6,403.0 441.0,391.8 469.3,378.8 497.7,366.5 526.0,353.4 554.4,344.0 582.7,329.1 611.1,318.0 639.4,299.3 667.8,288.2" fill="none" stroke="#1fb1e6" stroke-width="2.7" stroke-linejoin="round"/><path d="M412.6 400.5V405.5M409.0 400.5H416.2M409.0 405.5H416.2" stroke="#1fb1e6" stroke-width="2.5" fill="none"/><circle cx="412.6" cy="403.0" r="2.7" fill="#1fb1e6"/><path d="M441.0 388.1V395.5M437.4 388.1H444.6M437.4 395.5H444.6" stroke="#1fb1e6" stroke-width="2.5" fill="none"/><circle cx="441.0" cy="391.8" r="2.7" fill="#1fb1e6"/><path d="M469.3 375.5V382.1M465.7 375.5H472.9M465.7 382.1H472.9" stroke="#1fb1e6" stroke-width="2.5" fill="none"/><circle cx="469.3" cy="378.8" r="2.7" fill="#1fb1e6"/><path d="M497.7 363.5V369.5M494.1 363.5H501.3M494.1 369.5H501.3" stroke="#1fb1e6" stroke-width="2.5" fill="none"/><circle cx="497.7" cy="366.5" r="2.7" fill="#1fb1e6"/><path d="M526.0 350.4V356.4M522.4 350.4H529.6M522.4 356.4H529.6" stroke="#1fb1e6" stroke-width="2.5" fill="none"/><circle cx="526.0" cy="353.4" r="2.7" fill="#1fb1e6"/><path d="M554.4 340.5V347.5M550.8 340.5H558.0M550.8 347.5H558.0" stroke="#1fb1e6" stroke-width="2.5" fill="none"/><circle cx="554.4" cy="344.0" r="2.7" fill="#1fb1e6"/><path d="M582.7 326.1V332.1M579.1 326.1H586.3M579.1 332.1H586.3" stroke="#1fb1e6" stroke-width="2.5" fill="none"/><circle cx="582.7" cy="329.1" r="2.7" fill="#1fb1e6"/><path d="M611.1 315.0V321.0M607.5 315.0H614.7M607.5 321.0H614.7" stroke="#1fb1e6" stroke-width="2.5" fill="none"/><circle cx="611.1" cy="318.0" r="2.7" fill="#1fb1e6"/><path d="M639.4 296.8V301.8M635.8 296.8H643.0M635.8 301.8H643.0" stroke="#1fb1e6" stroke-width="2.5" fill="none"/><circle cx="639.4" cy="299.3" r="2.7" fill="#1fb1e6"/><path d="M667.8 285.7V290.7M664.1 285.7H671.4M664.1 290.7H671.4" stroke="#1fb1e6" stroke-width="2.5" fill="none"/><circle cx="667.8" cy="288.2" r="2.7" fill="#1fb1e6"/>
<polyline points="412.6,390.0 441.0,380.6 469.3,371.3 497.7,361.1 526.0,350.6 554.4,340.7 582.7,328.2 611.1,316.5 639.4,300.6 667.8,286.7" fill="none" stroke="#0f72bc" stroke-width="2.7" stroke-linejoin="round"/><path d="M412.6 385.5V394.5M409.0 385.5H416.2M409.0 394.5H416.2" stroke="#0f72bc" stroke-width="2.5" fill="none"/><circle cx="412.6" cy="390.0" r="2.7" fill="#0f72bc"/><path d="M441.0 376.6V384.6M437.4 376.6H444.6M437.4 384.6H444.6" stroke="#0f72bc" stroke-width="2.5" fill="none"/><circle cx="441.0" cy="380.6" r="2.7" fill="#0f72bc"/><path d="M469.3 367.8V374.8M465.7 367.8H472.9M465.7 374.8H472.9" stroke="#0f72bc" stroke-width="2.5" fill="none"/><circle cx="469.3" cy="371.3" r="2.7" fill="#0f72bc"/><path d="M497.7 358.1V364.1M494.1 358.1H501.3M494.1 364.1H501.3" stroke="#0f72bc" stroke-width="2.5" fill="none"/><circle cx="497.7" cy="361.1" r="2.7" fill="#0f72bc"/><path d="M526.0 347.6V353.6M522.4 347.6H529.6M522.4 353.6H529.6" stroke="#0f72bc" stroke-width="2.5" fill="none"/><circle cx="526.0" cy="350.6" r="2.7" fill="#0f72bc"/><path d="M554.4 337.7V343.7M550.8 337.7H558.0M550.8 343.7H558.0" stroke="#0f72bc" stroke-width="2.5" fill="none"/><circle cx="554.4" cy="340.7" r="2.7" fill="#0f72bc"/><path d="M582.7 325.2V331.2M579.1 325.2H586.3M579.1 331.2H586.3" stroke="#0f72bc" stroke-width="2.5" fill="none"/><circle cx="582.7" cy="328.2" r="2.7" fill="#0f72bc"/><path d="M611.1 313.5V319.5M607.5 313.5H614.7M607.5 319.5H614.7" stroke="#0f72bc" stroke-width="2.5" fill="none"/><circle cx="611.1" cy="316.5" r="2.7" fill="#0f72bc"/><path d="M639.4 297.6V303.6M635.8 297.6H643.0M635.8 303.6H643.0" stroke="#0f72bc" stroke-width="2.5" fill="none"/><circle cx="639.4" cy="300.6" r="2.7" fill="#0f72bc"/><path d="M667.8 282.1V291.3M664.1 282.1H671.4M664.1 291.3H671.4" stroke="#0f72bc" stroke-width="2.5" fill="none"/><circle cx="667.8" cy="286.7" r="2.7" fill="#0f72bc"/>
<polyline points="412.6,384.9 441.0,379.7 469.3,368.9 497.7,359.2 526.0,348.7 554.4,338.4 582.7,327.3 611.1,315.0 639.4,301.2 667.8,289.1" fill="none" stroke="#0c9a6c" stroke-width="2.7" stroke-linejoin="round"/><path d="M412.6 379.3V390.5M409.0 379.3H416.2M409.0 390.5H416.2" stroke="#0c9a6c" stroke-width="2.5" fill="none"/><circle cx="412.6" cy="384.9" r="2.7" fill="#0c9a6c"/><path d="M441.0 374.7V384.7M437.4 374.7H444.6M437.4 384.7H444.6" stroke="#0c9a6c" stroke-width="2.5" fill="none"/><circle cx="441.0" cy="379.7" r="2.7" fill="#0c9a6c"/><path d="M469.3 363.4V374.4M465.7 363.4H472.9M465.7 374.4H472.9" stroke="#0c9a6c" stroke-width="2.5" fill="none"/><circle cx="469.3" cy="368.9" r="2.7" fill="#0c9a6c"/><path d="M497.7 355.2V363.2M494.1 355.2H501.3M494.1 363.2H501.3" stroke="#0c9a6c" stroke-width="2.5" fill="none"/><circle cx="497.7" cy="359.2" r="2.7" fill="#0c9a6c"/><path d="M526.0 345.7V351.7M522.4 345.7H529.6M522.4 351.7H529.6" stroke="#0c9a6c" stroke-width="2.5" fill="none"/><circle cx="526.0" cy="348.7" r="2.7" fill="#0c9a6c"/><path d="M554.4 335.4V341.4M550.8 335.4H558.0M550.8 341.4H558.0" stroke="#0c9a6c" stroke-width="2.5" fill="none"/><circle cx="554.4" cy="338.4" r="2.7" fill="#0c9a6c"/><path d="M582.7 324.3V330.3M579.1 324.3H586.3M579.1 330.3H586.3" stroke="#0c9a6c" stroke-width="2.5" fill="none"/><circle cx="582.7" cy="327.3" r="2.7" fill="#0c9a6c"/><path d="M611.1 312.5V317.5M607.5 312.5H614.7M607.5 317.5H614.7" stroke="#0c9a6c" stroke-width="2.5" fill="none"/><circle cx="611.1" cy="315.0" r="2.7" fill="#0c9a6c"/><path d="M639.4 299.2V303.2M635.8 299.2H643.0M635.8 303.2H643.0" stroke="#0c9a6c" stroke-width="2.5" fill="none"/><circle cx="639.4" cy="301.2" r="2.7" fill="#0c9a6c"/><path d="M667.8 286.6V291.6M664.1 286.6H671.4M664.1 291.6H671.4" stroke="#0c9a6c" stroke-width="2.5" fill="none"/><circle cx="667.8" cy="289.1" r="2.7" fill="#0c9a6c"/>
<line x1="393.8" y1="266.0" x2="393.8" y2="415.6" stroke="#1c1c1c" stroke-width="2.7"/><line x1="392.6" y1="414.4" x2="685.0" y2="414.4" stroke="#1c1c1c" stroke-width="2.7"/>
<text class="t" x="390.2" y="292.4" font-size="10.3" text-anchor="end">0.6</text><text class="t" x="390.2" y="326.5" font-size="10.3" text-anchor="end">0.5</text><text class="t" x="390.2" y="360.5" font-size="10.3" text-anchor="end">0.4</text><text class="t" x="390.2" y="394.6" font-size="10.3" text-anchor="end">0.3</text><text class="t" x="441.0" y="427.8" font-size="10.3" text-anchor="middle">10</text><text class="t" x="497.7" y="427.8" font-size="10.3" text-anchor="middle">20</text><text class="t" x="554.4" y="427.8" font-size="10.3" text-anchor="middle">30</text><text class="t" x="611.1" y="427.8" font-size="10.3" text-anchor="middle">40</text><text class="t" x="667.8" y="427.8" font-size="10.3" text-anchor="middle">50</text>
<text class="t" x="539.7" y="448.8" font-size="12.5" text-anchor="middle" textLength="134" lengthAdjust="spacing">percent of labelled data [%]</text>
<text class="t" transform="translate(366.6 339.5) rotate(-90)" font-size="12.5" text-anchor="middle" textLength="50" lengthAdjust="spacing">mean ARI</text>
</g>
<text class="cap" x="165.0" y="253.3" font-size="19.5" text-anchor="middle" textLength="143.6" lengthAdjust="spacing">(a) ACC — ALOI</text>
<text class="cap" x="521.5" y="253.3" font-size="19.5" text-anchor="middle" textLength="160.0" lengthAdjust="spacing">(b) ACC — MNIST</text>
<text class="cap" x="165.0" y="479.5" font-size="19.5" text-anchor="middle" textLength="137.0" lengthAdjust="spacing">(c) ARI — ALOI</text>
<text class="cap" x="521.5" y="479.5" font-size="19.5" text-anchor="middle" textLength="154.0" lengthAdjust="spacing">(d) ARI — MNIST</text>
</svg>
</body>
</html>
